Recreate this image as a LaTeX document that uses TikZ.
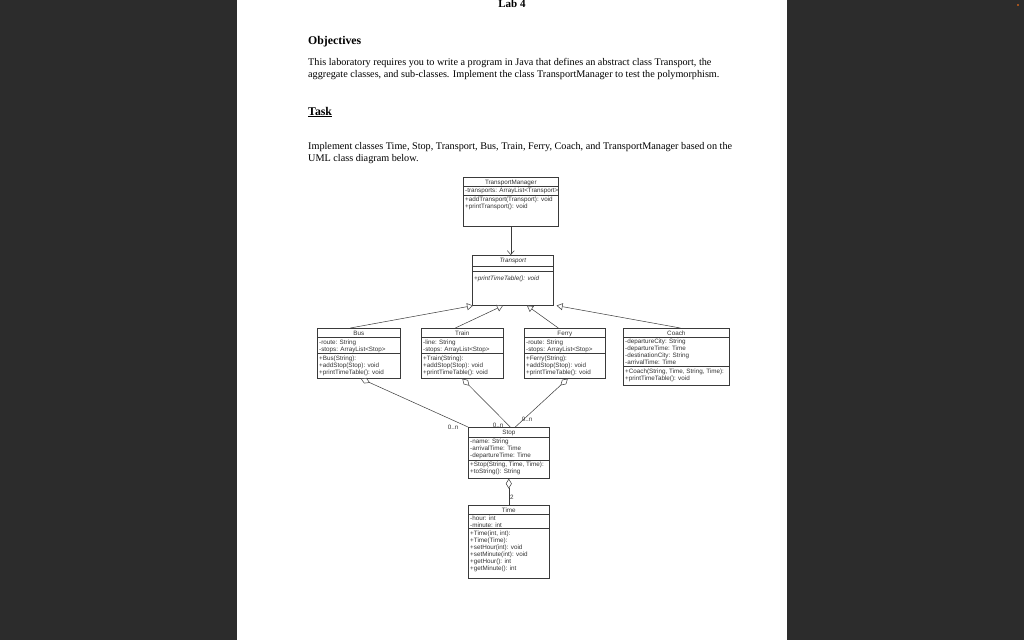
\documentclass[tikz,border=0pt]{standalone}
\usepackage{fontspec}
\setmainfont{Liberation Serif}
\newfontfamily\umlfont{Liberation Sans}
\usetikzlibrary{arrows.meta}
\definecolor{darkbg}{HTML}{2C2C2C}
\definecolor{umlline}{HTML}{3A3A3A}
\definecolor{dotcol}{HTML}{A0521E}
\newcommand\rowsat[3]{\foreach \t [count=\i from 0] in {#3}{\node[umltext, anchor=base west] at (#1, #2+7*\i) {\t};}}
\newcommand\hdiv[2]{\draw[divline] (#1.west |- 0,#2) -- (#1.east |- 0,#2);}
\begin{document}
\begin{tikzpicture}[x=1pt,y=-1pt,
  classbox/.style={draw=umlline, line width=0.6pt, fill=white, inner sep=0pt, anchor=north west},
  divline/.style={draw=umlline, line width=0.6pt},
  umltext/.style={font=\umlfont\fontsize{6.3}{7}\selectfont, inner sep=0pt, text=black!80},
  doctext/.style={font=\fontsize{10.2}{12}\selectfont, inner sep=0pt, anchor=base west},
  dochead/.style={font=\bfseries\fontsize{11.8}{13}\selectfont, inner sep=0pt, anchor=base west},
  inh/.style={draw=umlline, line width=0.5pt, -{Triangle[open, length=6pt, width=7pt, fill=white]}},
  agg/.style={draw=umlline, line width=0.5pt, {Diamond[open, length=10pt, width=6pt, fill=white]}-},
  assoc/.style={draw=umlline, line width=0.5pt, -{Straight Barb[length=4pt, width=7pt]}}]
\useasboundingbox (0,0) rectangle (1024,640);
\fill[darkbg] (0,0) rectangle (1024,640);
\fill[white] (237,0) rectangle (787,640);
\fill[dotcol] (1017,4) rectangle (1019,6);

% document text
\node[font=\bfseries\fontsize{11}{13}\selectfont, inner sep=0pt, anchor=base] (lab) at (512,7) {Lab 4};
\node[dochead] (obj) at (308,44) {Objectives};
\node[doctext] (p1) at (308,65) {This laboratory requires you to write a program in Java that defines an abstract class Transport, the};
\node[doctext] (p2) at (308,77) {aggregate classes, and sub-classes. Implement the class TransportManager to test the polymorphism.};
\node[dochead] (task) at (308,115) {Task};
\draw[line width=0.8pt] ([yshift=-1.6pt]task.base west) -- ([yshift=-1.6pt]task.base east);
\node[doctext] (p3) at (308,149) {Implement classes Time, Stop, Transport, Bus, Train, Ferry, Coach, and TransportManager based on the};
\node[doctext] (p4) at (308,161) {UML class diagram below.};

% TransportManager
\node[classbox, minimum width=95pt, minimum height=49pt] (tm) at (463,177) {};
\node[umltext, anchor=base] at (tm.north |- 0,184) {TransportManager};
\hdiv{tm}{186.5}
\rowsat{465}{192.5}{-transports: ArrayList<Transport>}
\hdiv{tm}{195}
\rowsat{465}{201.5}{+addTransport(Transport): void, +printTransport(): void}

% Transport
\node[classbox, minimum width=81pt, minimum height=50pt] (trans) at (472,255) {};
\node[umltext, anchor=base, font=\umlfont\itshape\fontsize{6.3}{7}\selectfont] at (trans.north |- 0,262.5) {Transport};
\hdiv{trans}{266}
\hdiv{trans}{271.5}
\node[umltext, anchor=base west, font=\umlfont\itshape\fontsize{6.3}{7}\selectfont] at (474,280) {+printTimeTable(): void};

% Bus
\node[classbox, minimum width=83pt, minimum height=50pt] (bus) at (317,328) {};
\node[umltext, anchor=base] at (bus.north |- 0,335) {Bus};
\hdiv{bus}{337.5}
\rowsat{319}{344}{-route: String, -stops: ArrayList<Stop>}
\hdiv{bus}{353.5}
\rowsat{319}{360}{+Bus(String):, +addStop(Stop): void, +printTimeTable(): void}

% Train
\node[classbox, minimum width=82pt, minimum height=50pt] (train) at (421,328) {};
\node[umltext, anchor=base] at (train.north |- 0,335) {Train};
\hdiv{train}{337.5}
\rowsat{423}{344}{-line: String, -stops: ArrayList<Stop>}
\hdiv{train}{353.5}
\rowsat{423}{360}{+Train(String):, +addStop(Stop): void, +printTimeTable(): void}

% Ferry
\node[classbox, minimum width=81pt, minimum height=50pt] (ferry) at (524,328) {};
\node[umltext, anchor=base] at (ferry.north |- 0,335) {Ferry};
\hdiv{ferry}{337.5}
\rowsat{526}{344}{-route: String, -stops: ArrayList<Stop>}
\hdiv{ferry}{353.5}
\rowsat{526}{360}{+Ferry(String):, +addStop(Stop): void, +printTimeTable(): void}

% Coach
\node[classbox, minimum width=106pt, minimum height=57pt] (coach) at (623,328) {};
\node[umltext, anchor=base] at (coach.north |- 0,335) {Coach};
\hdiv{coach}{337.5}
\rowsat{625}{343.5}{-departureCity: String, -departureTime: Time, -destinationCity: String, -arrivalTime: Time}
\hdiv{coach}{366.5}
\rowsat{625}{373.5}{{+Coach(String, Time, String, Time):}, +printTimeTable(): void}

% Stop
\node[classbox, minimum width=81pt, minimum height=51pt] (stop) at (468,427) {};
\node[umltext, anchor=base] at (stop.north |- 0,434.5) {Stop};
\hdiv{stop}{437}
\rowsat{470}{443}{-name: String, -arrivalTime: Time, -departureTime: Time}
\hdiv{stop}{460}
\rowsat{470}{466.5}{{+Stop(String, Time, Time):}, +toString(): String}

% Time
\node[classbox, minimum width=81pt, minimum height=73pt] (time) at (468,505) {};
\node[umltext, anchor=base] at (time.north |- 0,512) {Time};
\hdiv{time}{514.5}
\rowsat{470}{520.5}{-hour: int, -minute: int}
\hdiv{time}{528.5}
\rowsat{470}{535.5}{{+Time(int, int):}, +Time(Time):, +setHour(int): void, +setMinute(int): void, +getHour(): int, +getMinute(): int}

% connectors
\draw[assoc] (tm.south) -- (tm.south |- trans.north);
\draw[inh] ([xshift=-8.5pt]bus.north) -- ([xshift=1pt]trans.south west);
\draw[inh] ([xshift=-7pt]train.north) -- ([xshift=31pt]trans.south west);
\draw[inh] ([xshift=-6.5pt]ferry.north) -- ([xshift=55pt]trans.south west);
\draw[inh] ([xshift=4pt]coach.north) -- ([xshift=3pt]trans.south east);
\draw[agg] ([xshift=2pt]bus.south) -- (stop.north west);
\draw[agg] (train.south) -- ([xshift=1.5pt]stop.north);
\draw[agg] ([xshift=3pt]ferry.south) -- ([xshift=6.5pt]stop.north);
\draw[agg] (stop.south) -- (time.north);

% multiplicities
\node[umltext] (m1) at (453,427) {0..n};
\node[umltext] (m2) at (498,425.5) {0..n};
\node[umltext] (m3) at (527,419) {0..n};
\node[umltext, anchor=west] (m4) at (510,497) {2};
\end{tikzpicture}
\end{document}
